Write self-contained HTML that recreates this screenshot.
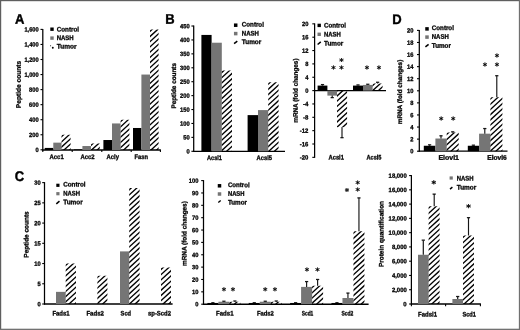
<!DOCTYPE html>
<html><head><meta charset="utf-8"><title>Figure</title>
<style>
html,body{margin:0;padding:0;background:#fff;}
body{width:520px;height:330px;overflow:hidden;position:relative;}
svg{position:absolute;left:0;top:0;display:block;}
svg text{font-family:"Liberation Sans",sans-serif;font-weight:bold;fill:#000;stroke:#000;stroke-width:0.3px;}
</style></head><body>
<svg width="520" height="330" viewBox="0 0 520 330">
<defs>
<filter id="soft" x="0" y="0" width="520" height="330" filterUnits="userSpaceOnUse"><feGaussianBlur stdDeviation="0.32"/></filter>
<filter id="soft2" x="0" y="0" width="520" height="330" filterUnits="userSpaceOnUse"><feGaussianBlur stdDeviation="0.2"/></filter>
</defs>
<rect width="520" height="330" fill="#fff"/>
<rect x="0.00" y="0.00" width="520.00" height="1.20" fill="#5f5f5f"/>
<rect x="0.00" y="0.00" width="1.20" height="330.00" fill="#5f5f5f"/>
<rect x="0.00" y="328.70" width="520.00" height="1.30" fill="#727272"/>
<rect x="518.85" y="0.00" width="1.15" height="330.00" fill="#707070"/>
<g filter="url(#soft)">
<text transform="translate(14.90,23.80) rotate(0.1)" font-size="14" text-anchor="start" textLength="9.40" lengthAdjust="spacingAndGlyphs" style="stroke-width:0.4px">A</text>
<text transform="translate(165.30,23.80) rotate(0.1)" font-size="14" text-anchor="start" textLength="9.40" lengthAdjust="spacingAndGlyphs" style="stroke-width:0.4px">B</text>
<text transform="translate(14.80,181.10) rotate(0.1)" font-size="14" text-anchor="start" textLength="9.40" lengthAdjust="spacingAndGlyphs" style="stroke-width:0.4px">C</text>
<text transform="translate(392.20,24.00) rotate(0.1)" font-size="14" text-anchor="start" textLength="9.40" lengthAdjust="spacingAndGlyphs" style="stroke-width:0.4px">D</text>
<line x1="42.80" y1="28.90" x2="42.80" y2="150.50" stroke="#000" stroke-width="1.25"/>
<line x1="40.50" y1="149.80" x2="42.80" y2="149.80" stroke="#000" stroke-width="1.1"/>
<text transform="translate(38.60,151.98) rotate(0.1)" font-size="6.15" text-anchor="end" textLength="3.20" lengthAdjust="spacingAndGlyphs">0</text>
<line x1="40.50" y1="134.75" x2="42.80" y2="134.75" stroke="#000" stroke-width="1.1"/>
<text transform="translate(38.60,136.93) rotate(0.1)" font-size="6.15" text-anchor="end" textLength="9.60" lengthAdjust="spacingAndGlyphs">200</text>
<line x1="40.50" y1="119.70" x2="42.80" y2="119.70" stroke="#000" stroke-width="1.1"/>
<text transform="translate(38.60,121.88) rotate(0.1)" font-size="6.15" text-anchor="end" textLength="9.60" lengthAdjust="spacingAndGlyphs">400</text>
<line x1="40.50" y1="104.65" x2="42.80" y2="104.65" stroke="#000" stroke-width="1.1"/>
<text transform="translate(38.60,106.83) rotate(0.1)" font-size="6.15" text-anchor="end" textLength="9.60" lengthAdjust="spacingAndGlyphs">600</text>
<line x1="40.50" y1="89.60" x2="42.80" y2="89.60" stroke="#000" stroke-width="1.1"/>
<text transform="translate(38.60,91.78) rotate(0.1)" font-size="6.15" text-anchor="end" textLength="9.60" lengthAdjust="spacingAndGlyphs">800</text>
<line x1="40.50" y1="74.55" x2="42.80" y2="74.55" stroke="#000" stroke-width="1.1"/>
<text transform="translate(38.60,76.73) rotate(0.1)" font-size="6.15" text-anchor="end" textLength="14.20" lengthAdjust="spacingAndGlyphs">1,000</text>
<line x1="40.50" y1="59.50" x2="42.80" y2="59.50" stroke="#000" stroke-width="1.1"/>
<text transform="translate(38.60,61.68) rotate(0.1)" font-size="6.15" text-anchor="end" textLength="14.20" lengthAdjust="spacingAndGlyphs">1,200</text>
<line x1="40.50" y1="44.45" x2="42.80" y2="44.45" stroke="#000" stroke-width="1.1"/>
<text transform="translate(38.60,46.63) rotate(0.1)" font-size="6.15" text-anchor="end" textLength="14.20" lengthAdjust="spacingAndGlyphs">1,400</text>
<line x1="40.50" y1="29.40" x2="42.80" y2="29.40" stroke="#000" stroke-width="1.1"/>
<text transform="translate(38.60,31.58) rotate(0.1)" font-size="6.15" text-anchor="end" textLength="14.20" lengthAdjust="spacingAndGlyphs">1,600</text>
<line x1="42.20" y1="150.00" x2="160.90" y2="150.00" stroke="#000" stroke-width="1.3"/>
<line x1="42.80" y1="150.00" x2="42.80" y2="151.90" stroke="#000" stroke-width="1.1"/>
<line x1="72.20" y1="150.00" x2="72.20" y2="151.90" stroke="#000" stroke-width="1.1"/>
<line x1="101.80" y1="150.00" x2="101.80" y2="151.90" stroke="#000" stroke-width="1.1"/>
<line x1="131.20" y1="150.00" x2="131.20" y2="151.90" stroke="#000" stroke-width="1.1"/>
<line x1="160.40" y1="150.00" x2="160.40" y2="151.90" stroke="#000" stroke-width="1.1"/>
<rect x="44.70" y="147.92" width="8.60" height="2.08" fill="#000"/>
<rect x="53.30" y="142.65" width="8.20" height="7.35" fill="#747474"/>
<rect x="74.00" y="149.42" width="8.40" height="0.58" fill="#000"/>
<rect x="82.40" y="146.04" width="8.60" height="3.96" fill="#747474"/>
<rect x="103.40" y="140.02" width="8.60" height="9.98" fill="#000"/>
<rect x="112.00" y="123.46" width="8.60" height="26.54" fill="#747474"/>
<rect x="133.00" y="127.98" width="8.40" height="22.02" fill="#000"/>
<rect x="141.40" y="74.55" width="8.60" height="75.45" fill="#747474"/>
<text transform="translate(56.60,159.00) rotate(0.1)" font-size="6.6" text-anchor="middle" textLength="14.20" lengthAdjust="spacingAndGlyphs">Acc1</text>
<text transform="translate(87.50,159.00) rotate(0.1)" font-size="6.6" text-anchor="middle" textLength="14.20" lengthAdjust="spacingAndGlyphs">Acc2</text>
<text transform="translate(112.80,159.00) rotate(0.1)" font-size="6.6" text-anchor="middle" textLength="12.40" lengthAdjust="spacingAndGlyphs">Acly</text>
<text transform="translate(141.30,159.00) rotate(0.1)" font-size="6.6" text-anchor="middle" textLength="13.40" lengthAdjust="spacingAndGlyphs">Fasn</text>
<text transform="translate(20.68,84.50) rotate(-89.9)" font-size="6.6" text-anchor="middle" textLength="47.30" lengthAdjust="spacingAndGlyphs">Peptide counts</text>
<rect x="50.30" y="27.50" width="3.40" height="3.40" fill="#000"/>
<text transform="translate(56.70,31.40) rotate(0.1)" font-size="6.6" text-anchor="start" textLength="22.30" lengthAdjust="spacingAndGlyphs">Control</text>
<rect x="50.30" y="36.40" width="3.40" height="3.40" fill="#747474"/>
<text transform="translate(56.70,39.90) rotate(0.1)" font-size="6.6" text-anchor="start" textLength="17.00" lengthAdjust="spacingAndGlyphs">NASH</text>
<circle cx="50.60" cy="45.80" r="0.55" fill="#000"/>
<circle cx="52.80" cy="47.80" r="0.95" fill="#000"/>
<text transform="translate(56.70,48.60) rotate(0.1)" font-size="6.6" text-anchor="start" textLength="19.80" lengthAdjust="spacingAndGlyphs">Tumor</text>
<line x1="193.70" y1="25.52" x2="193.70" y2="151.80" stroke="#000" stroke-width="1.25"/>
<line x1="191.40" y1="151.30" x2="193.70" y2="151.30" stroke="#000" stroke-width="1.1"/>
<text transform="translate(189.60,153.48) rotate(0.1)" font-size="6.15" text-anchor="end" textLength="3.20" lengthAdjust="spacingAndGlyphs">0</text>
<line x1="191.40" y1="137.38" x2="193.70" y2="137.38" stroke="#000" stroke-width="1.1"/>
<text transform="translate(189.60,139.56) rotate(0.1)" font-size="6.15" text-anchor="end" textLength="6.40" lengthAdjust="spacingAndGlyphs">50</text>
<line x1="191.40" y1="123.46" x2="193.70" y2="123.46" stroke="#000" stroke-width="1.1"/>
<text transform="translate(189.60,125.64) rotate(0.1)" font-size="6.15" text-anchor="end" textLength="9.60" lengthAdjust="spacingAndGlyphs">100</text>
<line x1="191.40" y1="109.54" x2="193.70" y2="109.54" stroke="#000" stroke-width="1.1"/>
<text transform="translate(189.60,111.72) rotate(0.1)" font-size="6.15" text-anchor="end" textLength="9.60" lengthAdjust="spacingAndGlyphs">150</text>
<line x1="191.40" y1="95.62" x2="193.70" y2="95.62" stroke="#000" stroke-width="1.1"/>
<text transform="translate(189.60,97.80) rotate(0.1)" font-size="6.15" text-anchor="end" textLength="9.60" lengthAdjust="spacingAndGlyphs">200</text>
<line x1="191.40" y1="81.70" x2="193.70" y2="81.70" stroke="#000" stroke-width="1.1"/>
<text transform="translate(189.60,83.88) rotate(0.1)" font-size="6.15" text-anchor="end" textLength="9.60" lengthAdjust="spacingAndGlyphs">250</text>
<line x1="191.40" y1="67.78" x2="193.70" y2="67.78" stroke="#000" stroke-width="1.1"/>
<text transform="translate(189.60,69.96) rotate(0.1)" font-size="6.15" text-anchor="end" textLength="9.60" lengthAdjust="spacingAndGlyphs">300</text>
<line x1="191.40" y1="53.86" x2="193.70" y2="53.86" stroke="#000" stroke-width="1.1"/>
<text transform="translate(189.60,56.04) rotate(0.1)" font-size="6.15" text-anchor="end" textLength="9.60" lengthAdjust="spacingAndGlyphs">350</text>
<line x1="191.40" y1="39.94" x2="193.70" y2="39.94" stroke="#000" stroke-width="1.1"/>
<text transform="translate(189.60,42.12) rotate(0.1)" font-size="6.15" text-anchor="end" textLength="9.60" lengthAdjust="spacingAndGlyphs">400</text>
<line x1="191.40" y1="26.02" x2="193.70" y2="26.02" stroke="#000" stroke-width="1.1"/>
<text transform="translate(189.60,28.20) rotate(0.1)" font-size="6.15" text-anchor="end" textLength="9.60" lengthAdjust="spacingAndGlyphs">450</text>
<line x1="193.10" y1="151.30" x2="285.00" y2="151.30" stroke="#000" stroke-width="1.3"/>
<rect x="201.40" y="34.93" width="10.20" height="116.37" fill="#000"/>
<rect x="211.60" y="42.72" width="10.20" height="108.58" fill="#747474"/>
<rect x="247.60" y="115.11" width="10.40" height="36.19" fill="#000"/>
<rect x="258.00" y="110.10" width="10.20" height="41.20" fill="#747474"/>
<text transform="translate(214.50,160.00) rotate(0.1)" font-size="6.6" text-anchor="middle" textLength="15.00" lengthAdjust="spacingAndGlyphs">Acsl1</text>
<text transform="translate(264.30,160.00) rotate(0.1)" font-size="6.6" text-anchor="middle" textLength="15.40" lengthAdjust="spacingAndGlyphs">Acsl5</text>
<text transform="translate(175.98,85.80) rotate(-89.9)" font-size="6.6" text-anchor="middle" textLength="45.60" lengthAdjust="spacingAndGlyphs">Peptide counts</text>
<rect x="233.95" y="23.45" width="3.50" height="3.50" fill="#000"/>
<text transform="translate(241.80,26.60) rotate(0.1)" font-size="6.6" text-anchor="start" textLength="22.10" lengthAdjust="spacingAndGlyphs">Control</text>
<rect x="233.95" y="31.85" width="3.50" height="3.50" fill="#747474"/>
<text transform="translate(241.80,35.40) rotate(0.1)" font-size="6.6" text-anchor="start" textLength="17.10" lengthAdjust="spacingAndGlyphs">NASH</text>
<line x1="234.10" y1="43.70" x2="237.30" y2="41.10" stroke="#000" stroke-width="1.5"/>
<text transform="translate(241.80,44.00) rotate(0.1)" font-size="6.6" text-anchor="start" textLength="19.40" lengthAdjust="spacingAndGlyphs">Tumor</text>
<line x1="314.60" y1="23.35" x2="314.60" y2="157.85" stroke="#000" stroke-width="1.25"/>
<line x1="312.30" y1="157.35" x2="314.60" y2="157.35" stroke="#000" stroke-width="1.1"/>
<text transform="translate(308.40,159.53) rotate(0.1)" font-size="6.15" text-anchor="end" textLength="8.60" lengthAdjust="spacingAndGlyphs">-20</text>
<line x1="312.30" y1="144.00" x2="314.60" y2="144.00" stroke="#000" stroke-width="1.1"/>
<text transform="translate(308.40,146.18) rotate(0.1)" font-size="6.15" text-anchor="end" textLength="8.60" lengthAdjust="spacingAndGlyphs">-16</text>
<line x1="312.30" y1="130.65" x2="314.60" y2="130.65" stroke="#000" stroke-width="1.1"/>
<text transform="translate(308.40,132.83) rotate(0.1)" font-size="6.15" text-anchor="end" textLength="8.60" lengthAdjust="spacingAndGlyphs">-12</text>
<line x1="312.30" y1="117.30" x2="314.60" y2="117.30" stroke="#000" stroke-width="1.1"/>
<text transform="translate(308.40,119.48) rotate(0.1)" font-size="6.15" text-anchor="end" textLength="5.40" lengthAdjust="spacingAndGlyphs">-8</text>
<line x1="312.30" y1="103.95" x2="314.60" y2="103.95" stroke="#000" stroke-width="1.1"/>
<text transform="translate(308.40,106.13) rotate(0.1)" font-size="6.15" text-anchor="end" textLength="5.40" lengthAdjust="spacingAndGlyphs">-4</text>
<line x1="312.30" y1="90.60" x2="314.60" y2="90.60" stroke="#000" stroke-width="1.1"/>
<text transform="translate(308.40,92.78) rotate(0.1)" font-size="6.15" text-anchor="end" textLength="3.20" lengthAdjust="spacingAndGlyphs">0</text>
<line x1="312.30" y1="77.25" x2="314.60" y2="77.25" stroke="#000" stroke-width="1.1"/>
<text transform="translate(308.40,79.43) rotate(0.1)" font-size="6.15" text-anchor="end" textLength="3.20" lengthAdjust="spacingAndGlyphs">4</text>
<line x1="312.30" y1="63.90" x2="314.60" y2="63.90" stroke="#000" stroke-width="1.1"/>
<text transform="translate(308.40,66.08) rotate(0.1)" font-size="6.15" text-anchor="end" textLength="3.20" lengthAdjust="spacingAndGlyphs">8</text>
<line x1="312.30" y1="50.55" x2="314.60" y2="50.55" stroke="#000" stroke-width="1.1"/>
<text transform="translate(308.40,52.73) rotate(0.1)" font-size="6.15" text-anchor="end" textLength="6.40" lengthAdjust="spacingAndGlyphs">12</text>
<line x1="312.30" y1="37.20" x2="314.60" y2="37.20" stroke="#000" stroke-width="1.1"/>
<text transform="translate(308.40,39.38) rotate(0.1)" font-size="6.15" text-anchor="end" textLength="6.40" lengthAdjust="spacingAndGlyphs">16</text>
<line x1="312.30" y1="23.85" x2="314.60" y2="23.85" stroke="#000" stroke-width="1.1"/>
<text transform="translate(308.40,26.03) rotate(0.1)" font-size="6.15" text-anchor="end" textLength="6.40" lengthAdjust="spacingAndGlyphs">20</text>
<line x1="314.00" y1="90.60" x2="386.00" y2="90.60" stroke="#000" stroke-width="1.2"/>
<rect x="317.60" y="85.59" width="9.80" height="5.01" fill="#000"/>
<line x1="322.50" y1="85.59" x2="322.50" y2="84.59" stroke="#141414" stroke-width="1.15"/>
<line x1="320.90" y1="84.59" x2="324.10" y2="84.59" stroke="#141414" stroke-width="1.25"/>
<rect x="327.40" y="90.60" width="9.60" height="5.01" fill="#747474"/>
<line x1="332.20" y1="95.61" x2="332.20" y2="97.61" stroke="#141414" stroke-width="1.15"/>
<line x1="330.60" y1="97.61" x2="333.80" y2="97.61" stroke="#141414" stroke-width="1.25"/>
<line x1="342.00" y1="127.31" x2="342.00" y2="137.66" stroke="#141414" stroke-width="1.15"/>
<line x1="340.40" y1="137.66" x2="343.60" y2="137.66" stroke="#141414" stroke-width="1.25"/>
<rect x="353.00" y="85.59" width="10.00" height="5.01" fill="#000"/>
<line x1="358.00" y1="85.59" x2="358.00" y2="84.93" stroke="#141414" stroke-width="1.15"/>
<line x1="356.40" y1="84.93" x2="359.60" y2="84.93" stroke="#141414" stroke-width="1.25"/>
<rect x="363.00" y="84.93" width="9.60" height="5.67" fill="#747474"/>
<line x1="367.80" y1="84.93" x2="367.80" y2="84.26" stroke="#141414" stroke-width="1.15"/>
<line x1="366.20" y1="84.26" x2="369.40" y2="84.26" stroke="#141414" stroke-width="1.25"/>
<line x1="377.60" y1="83.59" x2="377.60" y2="82.26" stroke="#141414" stroke-width="1.15"/>
<line x1="376.00" y1="82.26" x2="379.20" y2="82.26" stroke="#141414" stroke-width="1.25"/>
<text transform="translate(333.30,71.67) rotate(0.1)" font-size="8.3" text-anchor="middle" style="font-family:'DejaVu Sans',sans-serif;stroke-width:0.22px">*</text>
<text transform="translate(341.50,71.67) rotate(0.1)" font-size="8.3" text-anchor="middle" style="font-family:'DejaVu Sans',sans-serif;stroke-width:0.22px">*</text>
<text transform="translate(341.50,64.27) rotate(0.1)" font-size="8.3" text-anchor="middle" style="font-family:'DejaVu Sans',sans-serif;stroke-width:0.22px">*</text>
<text transform="translate(367.00,71.67) rotate(0.1)" font-size="8.3" text-anchor="middle" style="font-family:'DejaVu Sans',sans-serif;stroke-width:0.22px">*</text>
<text transform="translate(378.80,71.67) rotate(0.1)" font-size="8.3" text-anchor="middle" style="font-family:'DejaVu Sans',sans-serif;stroke-width:0.22px">*</text>
<text transform="translate(336.20,159.60) rotate(0.1)" font-size="6.6" text-anchor="middle" textLength="15.40" lengthAdjust="spacingAndGlyphs">Acsl1</text>
<text transform="translate(374.00,159.60) rotate(0.1)" font-size="6.6" text-anchor="middle" textLength="15.00" lengthAdjust="spacingAndGlyphs">Acsl5</text>
<text transform="translate(297.78,90.60) rotate(-89.9)" font-size="6.6" text-anchor="middle" textLength="64.20" lengthAdjust="spacingAndGlyphs">mRNA (fold changes)</text>
<rect x="317.50" y="23.70" width="3.40" height="3.40" fill="#000"/>
<text transform="translate(324.00,27.50) rotate(0.1)" font-size="6.6" text-anchor="start" textLength="22.00" lengthAdjust="spacingAndGlyphs">Control</text>
<rect x="317.50" y="32.60" width="3.40" height="3.40" fill="#747474"/>
<text transform="translate(324.00,36.50) rotate(0.1)" font-size="6.6" text-anchor="start" textLength="16.80" lengthAdjust="spacingAndGlyphs">NASH</text>
<line x1="317.60" y1="44.50" x2="320.80" y2="41.90" stroke="#000" stroke-width="1.5"/>
<text transform="translate(324.00,45.40) rotate(0.1)" font-size="6.6" text-anchor="start" textLength="19.30" lengthAdjust="spacingAndGlyphs">Tumor</text>
<line x1="419.30" y1="29.90" x2="419.30" y2="151.70" stroke="#000" stroke-width="1.25"/>
<line x1="417.00" y1="151.20" x2="419.30" y2="151.20" stroke="#000" stroke-width="1.1"/>
<text transform="translate(413.40,153.38) rotate(0.1)" font-size="6.15" text-anchor="end" textLength="3.20" lengthAdjust="spacingAndGlyphs">0</text>
<line x1="417.00" y1="139.12" x2="419.30" y2="139.12" stroke="#000" stroke-width="1.1"/>
<text transform="translate(413.40,141.30) rotate(0.1)" font-size="6.15" text-anchor="end" textLength="3.20" lengthAdjust="spacingAndGlyphs">2</text>
<line x1="417.00" y1="127.04" x2="419.30" y2="127.04" stroke="#000" stroke-width="1.1"/>
<text transform="translate(413.40,129.22) rotate(0.1)" font-size="6.15" text-anchor="end" textLength="3.20" lengthAdjust="spacingAndGlyphs">4</text>
<line x1="417.00" y1="114.96" x2="419.30" y2="114.96" stroke="#000" stroke-width="1.1"/>
<text transform="translate(413.40,117.14) rotate(0.1)" font-size="6.15" text-anchor="end" textLength="3.20" lengthAdjust="spacingAndGlyphs">6</text>
<line x1="417.00" y1="102.88" x2="419.30" y2="102.88" stroke="#000" stroke-width="1.1"/>
<text transform="translate(413.40,105.06) rotate(0.1)" font-size="6.15" text-anchor="end" textLength="3.20" lengthAdjust="spacingAndGlyphs">8</text>
<line x1="417.00" y1="90.80" x2="419.30" y2="90.80" stroke="#000" stroke-width="1.1"/>
<text transform="translate(413.40,92.98) rotate(0.1)" font-size="6.15" text-anchor="end" textLength="6.40" lengthAdjust="spacingAndGlyphs">10</text>
<line x1="417.00" y1="78.72" x2="419.30" y2="78.72" stroke="#000" stroke-width="1.1"/>
<text transform="translate(413.40,80.90) rotate(0.1)" font-size="6.15" text-anchor="end" textLength="6.40" lengthAdjust="spacingAndGlyphs">12</text>
<line x1="417.00" y1="66.64" x2="419.30" y2="66.64" stroke="#000" stroke-width="1.1"/>
<text transform="translate(413.40,68.82) rotate(0.1)" font-size="6.15" text-anchor="end" textLength="6.40" lengthAdjust="spacingAndGlyphs">14</text>
<line x1="417.00" y1="54.56" x2="419.30" y2="54.56" stroke="#000" stroke-width="1.1"/>
<text transform="translate(413.40,56.74) rotate(0.1)" font-size="6.15" text-anchor="end" textLength="6.40" lengthAdjust="spacingAndGlyphs">16</text>
<line x1="417.00" y1="42.48" x2="419.30" y2="42.48" stroke="#000" stroke-width="1.1"/>
<text transform="translate(413.40,44.66) rotate(0.1)" font-size="6.15" text-anchor="end" textLength="6.40" lengthAdjust="spacingAndGlyphs">18</text>
<line x1="417.00" y1="30.40" x2="419.30" y2="30.40" stroke="#000" stroke-width="1.1"/>
<text transform="translate(413.40,32.58) rotate(0.1)" font-size="6.15" text-anchor="end" textLength="6.40" lengthAdjust="spacingAndGlyphs">20</text>
<line x1="418.70" y1="151.20" x2="507.50" y2="151.20" stroke="#000" stroke-width="1.3"/>
<rect x="423.80" y="145.76" width="11.60" height="5.44" fill="#000"/>
<line x1="429.60" y1="145.76" x2="429.60" y2="144.86" stroke="#141414" stroke-width="1.15"/>
<line x1="428.00" y1="144.86" x2="431.20" y2="144.86" stroke="#141414" stroke-width="1.25"/>
<rect x="435.40" y="138.52" width="11.30" height="12.68" fill="#747474"/>
<line x1="441.00" y1="138.52" x2="441.00" y2="135.80" stroke="#141414" stroke-width="1.15"/>
<line x1="439.40" y1="135.80" x2="442.60" y2="135.80" stroke="#141414" stroke-width="1.25"/>
<line x1="452.70" y1="132.48" x2="452.70" y2="131.87" stroke="#141414" stroke-width="1.15"/>
<line x1="451.10" y1="131.87" x2="454.30" y2="131.87" stroke="#141414" stroke-width="1.25"/>
<rect x="467.80" y="145.76" width="11.30" height="5.44" fill="#000"/>
<line x1="473.40" y1="145.76" x2="473.40" y2="145.16" stroke="#141414" stroke-width="1.15"/>
<line x1="471.80" y1="145.16" x2="475.00" y2="145.16" stroke="#141414" stroke-width="1.25"/>
<rect x="479.10" y="133.68" width="11.30" height="17.52" fill="#747474"/>
<line x1="484.80" y1="133.68" x2="484.80" y2="128.55" stroke="#141414" stroke-width="1.15"/>
<line x1="483.20" y1="128.55" x2="486.40" y2="128.55" stroke="#141414" stroke-width="1.25"/>
<line x1="496.80" y1="97.14" x2="496.80" y2="75.70" stroke="#141414" stroke-width="1.15"/>
<line x1="495.20" y1="75.70" x2="498.40" y2="75.70" stroke="#141414" stroke-width="1.25"/>
<text transform="translate(441.20,122.77) rotate(0.1)" font-size="8.3" text-anchor="middle" style="font-family:'DejaVu Sans',sans-serif;stroke-width:0.22px">*</text>
<text transform="translate(453.20,122.77) rotate(0.1)" font-size="8.3" text-anchor="middle" style="font-family:'DejaVu Sans',sans-serif;stroke-width:0.22px">*</text>
<text transform="translate(485.00,68.67) rotate(0.1)" font-size="8.3" text-anchor="middle" style="font-family:'DejaVu Sans',sans-serif;stroke-width:0.22px">*</text>
<text transform="translate(497.00,68.67) rotate(0.1)" font-size="8.3" text-anchor="middle" style="font-family:'DejaVu Sans',sans-serif;stroke-width:0.22px">*</text>
<text transform="translate(497.00,59.87) rotate(0.1)" font-size="8.3" text-anchor="middle" style="font-family:'DejaVu Sans',sans-serif;stroke-width:0.22px">*</text>
<text transform="translate(448.70,159.80) rotate(0.1)" font-size="6.6" text-anchor="middle" textLength="20.60" lengthAdjust="spacingAndGlyphs">Elovl1</text>
<text transform="translate(497.00,159.80) rotate(0.1)" font-size="6.6" text-anchor="middle" textLength="19.60" lengthAdjust="spacingAndGlyphs">Elovl6</text>
<text transform="translate(401.98,92.00) rotate(-89.9)" font-size="6.6" text-anchor="middle" textLength="64.50" lengthAdjust="spacingAndGlyphs">mRNA (fold changes)</text>
<rect x="425.25" y="27.15" width="3.50" height="3.50" fill="#000"/>
<text transform="translate(431.80,30.00) rotate(0.1)" font-size="6.6" text-anchor="start" textLength="22.10" lengthAdjust="spacingAndGlyphs">Control</text>
<rect x="425.25" y="35.35" width="3.50" height="3.50" fill="#747474"/>
<text transform="translate(431.80,38.80) rotate(0.1)" font-size="6.6" text-anchor="start" textLength="16.90" lengthAdjust="spacingAndGlyphs">NASH</text>
<line x1="425.40" y1="46.90" x2="428.60" y2="44.30" stroke="#000" stroke-width="1.5"/>
<text transform="translate(431.80,47.70) rotate(0.1)" font-size="6.6" text-anchor="start" textLength="19.10" lengthAdjust="spacingAndGlyphs">Tumor</text>
<line x1="44.50" y1="182.12" x2="44.50" y2="304.50" stroke="#000" stroke-width="1.25"/>
<line x1="42.20" y1="304.00" x2="44.50" y2="304.00" stroke="#000" stroke-width="1.1"/>
<text transform="translate(40.60,306.18) rotate(0.1)" font-size="6.15" text-anchor="end" textLength="3.20" lengthAdjust="spacingAndGlyphs">0</text>
<line x1="42.20" y1="283.77" x2="44.50" y2="283.77" stroke="#000" stroke-width="1.1"/>
<text transform="translate(40.60,285.95) rotate(0.1)" font-size="6.15" text-anchor="end" textLength="3.20" lengthAdjust="spacingAndGlyphs">5</text>
<line x1="42.20" y1="263.54" x2="44.50" y2="263.54" stroke="#000" stroke-width="1.1"/>
<text transform="translate(40.60,265.72) rotate(0.1)" font-size="6.15" text-anchor="end" textLength="6.40" lengthAdjust="spacingAndGlyphs">10</text>
<line x1="42.20" y1="243.31" x2="44.50" y2="243.31" stroke="#000" stroke-width="1.1"/>
<text transform="translate(40.60,245.49) rotate(0.1)" font-size="6.15" text-anchor="end" textLength="6.40" lengthAdjust="spacingAndGlyphs">15</text>
<line x1="42.20" y1="223.08" x2="44.50" y2="223.08" stroke="#000" stroke-width="1.1"/>
<text transform="translate(40.60,225.26) rotate(0.1)" font-size="6.15" text-anchor="end" textLength="6.40" lengthAdjust="spacingAndGlyphs">20</text>
<line x1="42.20" y1="202.85" x2="44.50" y2="202.85" stroke="#000" stroke-width="1.1"/>
<text transform="translate(40.60,205.03) rotate(0.1)" font-size="6.15" text-anchor="end" textLength="6.40" lengthAdjust="spacingAndGlyphs">25</text>
<line x1="42.20" y1="182.62" x2="44.50" y2="182.62" stroke="#000" stroke-width="1.1"/>
<text transform="translate(40.60,184.80) rotate(0.1)" font-size="6.15" text-anchor="end" textLength="6.40" lengthAdjust="spacingAndGlyphs">30</text>
<line x1="44.00" y1="304.00" x2="172.60" y2="304.00" stroke="#000" stroke-width="1.35"/>
<rect x="56.00" y="291.86" width="9.70" height="12.14" fill="#747474"/>
<rect x="120.00" y="251.40" width="9.20" height="52.60" fill="#747474"/>
<text transform="translate(61.00,315.50) rotate(0.1)" font-size="6.6" text-anchor="middle" textLength="17.20" lengthAdjust="spacingAndGlyphs">Fads1</text>
<text transform="translate(95.20,315.50) rotate(0.1)" font-size="6.6" text-anchor="middle" textLength="17.60" lengthAdjust="spacingAndGlyphs">Fads2</text>
<text transform="translate(125.80,315.50) rotate(0.1)" font-size="6.6" text-anchor="middle" textLength="10.40" lengthAdjust="spacingAndGlyphs">Scd</text>
<text transform="translate(159.50,315.50) rotate(0.1)" font-size="6.6" text-anchor="middle" textLength="23.00" lengthAdjust="spacingAndGlyphs">sp-Scd2</text>
<text transform="translate(28.48,234.50) rotate(-89.9)" font-size="6.6" text-anchor="middle" textLength="46.30" lengthAdjust="spacingAndGlyphs">Peptide counts</text>
<rect x="56.30" y="183.70" width="3.20" height="3.20" fill="#000"/>
<text transform="translate(63.20,186.50) rotate(0.1)" font-size="6.6" text-anchor="start" textLength="22.40" lengthAdjust="spacingAndGlyphs">Control</text>
<rect x="56.30" y="192.10" width="3.20" height="3.20" fill="#747474"/>
<text transform="translate(63.20,195.50) rotate(0.1)" font-size="6.6" text-anchor="start" textLength="16.80" lengthAdjust="spacingAndGlyphs">NASH</text>
<line x1="56.30" y1="203.80" x2="59.50" y2="201.20" stroke="#000" stroke-width="1.5"/>
<text transform="translate(63.20,204.20) rotate(0.1)" font-size="6.6" text-anchor="start" textLength="19.50" lengthAdjust="spacingAndGlyphs">Tumor</text>
<line x1="203.50" y1="180.10" x2="203.50" y2="304.70" stroke="#000" stroke-width="1.25"/>
<line x1="201.20" y1="304.20" x2="203.50" y2="304.20" stroke="#000" stroke-width="1.1"/>
<text transform="translate(198.40,306.38) rotate(0.1)" font-size="6.15" text-anchor="end" textLength="3.20" lengthAdjust="spacingAndGlyphs">0</text>
<line x1="201.20" y1="291.84" x2="203.50" y2="291.84" stroke="#000" stroke-width="1.1"/>
<text transform="translate(198.40,294.02) rotate(0.1)" font-size="6.15" text-anchor="end" textLength="6.40" lengthAdjust="spacingAndGlyphs">10</text>
<line x1="201.20" y1="279.48" x2="203.50" y2="279.48" stroke="#000" stroke-width="1.1"/>
<text transform="translate(198.40,281.66) rotate(0.1)" font-size="6.15" text-anchor="end" textLength="6.40" lengthAdjust="spacingAndGlyphs">20</text>
<line x1="201.20" y1="267.12" x2="203.50" y2="267.12" stroke="#000" stroke-width="1.1"/>
<text transform="translate(198.40,269.30) rotate(0.1)" font-size="6.15" text-anchor="end" textLength="6.40" lengthAdjust="spacingAndGlyphs">30</text>
<line x1="201.20" y1="254.76" x2="203.50" y2="254.76" stroke="#000" stroke-width="1.1"/>
<text transform="translate(198.40,256.94) rotate(0.1)" font-size="6.15" text-anchor="end" textLength="6.40" lengthAdjust="spacingAndGlyphs">40</text>
<line x1="201.20" y1="242.40" x2="203.50" y2="242.40" stroke="#000" stroke-width="1.1"/>
<text transform="translate(198.40,244.58) rotate(0.1)" font-size="6.15" text-anchor="end" textLength="6.40" lengthAdjust="spacingAndGlyphs">50</text>
<line x1="201.20" y1="230.04" x2="203.50" y2="230.04" stroke="#000" stroke-width="1.1"/>
<text transform="translate(198.40,232.22) rotate(0.1)" font-size="6.15" text-anchor="end" textLength="6.40" lengthAdjust="spacingAndGlyphs">60</text>
<line x1="201.20" y1="217.68" x2="203.50" y2="217.68" stroke="#000" stroke-width="1.1"/>
<text transform="translate(198.40,219.86) rotate(0.1)" font-size="6.15" text-anchor="end" textLength="6.40" lengthAdjust="spacingAndGlyphs">70</text>
<line x1="201.20" y1="205.32" x2="203.50" y2="205.32" stroke="#000" stroke-width="1.1"/>
<text transform="translate(198.40,207.50) rotate(0.1)" font-size="6.15" text-anchor="end" textLength="6.40" lengthAdjust="spacingAndGlyphs">80</text>
<line x1="201.20" y1="192.96" x2="203.50" y2="192.96" stroke="#000" stroke-width="1.1"/>
<text transform="translate(198.40,195.14) rotate(0.1)" font-size="6.15" text-anchor="end" textLength="6.40" lengthAdjust="spacingAndGlyphs">90</text>
<line x1="201.20" y1="180.60" x2="203.50" y2="180.60" stroke="#000" stroke-width="1.1"/>
<text transform="translate(198.40,182.78) rotate(0.1)" font-size="6.15" text-anchor="end" textLength="9.60" lengthAdjust="spacingAndGlyphs">100</text>
<line x1="202.90" y1="304.20" x2="368.60" y2="304.20" stroke="#000" stroke-width="1.35"/>
<rect x="207.40" y="302.96" width="11.00" height="1.24" fill="#000"/>
<line x1="212.90" y1="302.96" x2="212.90" y2="302.72" stroke="#141414" stroke-width="1.15"/>
<line x1="211.30" y1="302.72" x2="214.50" y2="302.72" stroke="#141414" stroke-width="1.25"/>
<rect x="218.40" y="301.73" width="11.00" height="2.47" fill="#747474"/>
<line x1="223.90" y1="301.73" x2="223.90" y2="301.23" stroke="#141414" stroke-width="1.15"/>
<line x1="222.30" y1="301.23" x2="225.50" y2="301.23" stroke="#141414" stroke-width="1.25"/>
<line x1="234.90" y1="301.73" x2="234.90" y2="300.99" stroke="#141414" stroke-width="1.15"/>
<line x1="233.30" y1="300.99" x2="236.50" y2="300.99" stroke="#141414" stroke-width="1.25"/>
<rect x="248.75" y="302.96" width="11.00" height="1.24" fill="#000"/>
<line x1="254.25" y1="302.96" x2="254.25" y2="302.72" stroke="#141414" stroke-width="1.15"/>
<line x1="252.65" y1="302.72" x2="255.85" y2="302.72" stroke="#141414" stroke-width="1.25"/>
<rect x="259.75" y="301.73" width="11.00" height="2.47" fill="#747474"/>
<line x1="265.25" y1="301.73" x2="265.25" y2="301.23" stroke="#141414" stroke-width="1.15"/>
<line x1="263.65" y1="301.23" x2="266.85" y2="301.23" stroke="#141414" stroke-width="1.25"/>
<line x1="276.25" y1="301.73" x2="276.25" y2="300.99" stroke="#141414" stroke-width="1.15"/>
<line x1="274.65" y1="300.99" x2="277.85" y2="300.99" stroke="#141414" stroke-width="1.25"/>
<rect x="290.10" y="302.96" width="11.00" height="1.24" fill="#000"/>
<line x1="295.60" y1="302.96" x2="295.60" y2="302.72" stroke="#141414" stroke-width="1.15"/>
<line x1="294.00" y1="302.72" x2="297.20" y2="302.72" stroke="#141414" stroke-width="1.25"/>
<rect x="301.10" y="286.90" width="11.00" height="17.30" fill="#747474"/>
<line x1="306.60" y1="286.90" x2="306.60" y2="281.58" stroke="#141414" stroke-width="1.15"/>
<line x1="305.00" y1="281.58" x2="308.20" y2="281.58" stroke="#141414" stroke-width="1.25"/>
<line x1="317.60" y1="285.66" x2="317.60" y2="279.48" stroke="#141414" stroke-width="1.15"/>
<line x1="316.00" y1="279.48" x2="319.20" y2="279.48" stroke="#141414" stroke-width="1.25"/>
<rect x="331.45" y="302.96" width="11.00" height="1.24" fill="#000"/>
<line x1="336.95" y1="302.96" x2="336.95" y2="302.72" stroke="#141414" stroke-width="1.15"/>
<line x1="335.35" y1="302.72" x2="338.55" y2="302.72" stroke="#141414" stroke-width="1.25"/>
<rect x="342.45" y="298.02" width="11.00" height="6.18" fill="#747474"/>
<line x1="347.95" y1="298.02" x2="347.95" y2="293.08" stroke="#141414" stroke-width="1.15"/>
<line x1="346.35" y1="293.08" x2="349.55" y2="293.08" stroke="#141414" stroke-width="1.25"/>
<line x1="358.95" y1="231.28" x2="358.95" y2="197.90" stroke="#141414" stroke-width="1.15"/>
<line x1="357.35" y1="197.90" x2="360.55" y2="197.90" stroke="#141414" stroke-width="1.25"/>
<text transform="translate(223.80,293.47) rotate(0.1)" font-size="8.3" text-anchor="middle" style="font-family:'DejaVu Sans',sans-serif;stroke-width:0.22px">*</text>
<text transform="translate(233.00,293.47) rotate(0.1)" font-size="8.3" text-anchor="middle" style="font-family:'DejaVu Sans',sans-serif;stroke-width:0.22px">*</text>
<text transform="translate(265.20,293.47) rotate(0.1)" font-size="8.3" text-anchor="middle" style="font-family:'DejaVu Sans',sans-serif;stroke-width:0.22px">*</text>
<text transform="translate(274.80,293.47) rotate(0.1)" font-size="8.3" text-anchor="middle" style="font-family:'DejaVu Sans',sans-serif;stroke-width:0.22px">*</text>
<text transform="translate(307.00,273.87) rotate(0.1)" font-size="8.3" text-anchor="middle" style="font-family:'DejaVu Sans',sans-serif;stroke-width:0.22px">*</text>
<text transform="translate(317.40,273.87) rotate(0.1)" font-size="8.3" text-anchor="middle" style="font-family:'DejaVu Sans',sans-serif;stroke-width:0.22px">*</text>
<text transform="translate(347.00,194.27) rotate(0.1)" font-size="8.3" text-anchor="middle" style="font-family:'DejaVu Sans',sans-serif;stroke-width:0.22px">*</text>
<text transform="translate(357.60,193.87) rotate(0.1)" font-size="8.3" text-anchor="middle" style="font-family:'DejaVu Sans',sans-serif;stroke-width:0.22px">*</text>
<text transform="translate(357.60,186.67) rotate(0.1)" font-size="8.3" text-anchor="middle" style="font-family:'DejaVu Sans',sans-serif;stroke-width:0.22px">*</text>
<text transform="translate(224.80,315.60) rotate(0.1)" font-size="6.6" text-anchor="middle" textLength="17.50" lengthAdjust="spacingAndGlyphs">Fads1</text>
<text transform="translate(265.40,315.60) rotate(0.1)" font-size="6.6" text-anchor="middle" textLength="17.00" lengthAdjust="spacingAndGlyphs">Fads2</text>
<text transform="translate(307.50,315.60) rotate(0.1)" font-size="6.6" text-anchor="middle" textLength="11.60" lengthAdjust="spacingAndGlyphs">Scd1</text>
<text transform="translate(347.40,315.60) rotate(0.1)" font-size="6.6" text-anchor="middle" textLength="12.00" lengthAdjust="spacingAndGlyphs">Scd2</text>
<text transform="translate(186.48,233.60) rotate(-89.9)" font-size="6.6" text-anchor="middle" textLength="64.80" lengthAdjust="spacingAndGlyphs">mRNA (fold changes)</text>
<rect x="217.75" y="184.05" width="3.50" height="3.50" fill="#000"/>
<text transform="translate(227.90,187.10) rotate(0.1)" font-size="6.6" text-anchor="start" textLength="21.80" lengthAdjust="spacingAndGlyphs">Control</text>
<rect x="217.75" y="192.25" width="3.50" height="3.50" fill="#747474"/>
<text transform="translate(227.90,195.80) rotate(0.1)" font-size="6.6" text-anchor="start" textLength="16.60" lengthAdjust="spacingAndGlyphs">NASH</text>
<line x1="218.30" y1="202.50" x2="220.70" y2="200.50" stroke="#000" stroke-width="1.4"/>
<text transform="translate(227.90,204.40) rotate(0.1)" font-size="6.6" text-anchor="start" textLength="19.10" lengthAdjust="spacingAndGlyphs">Tumor</text>
<line x1="411.40" y1="175.07" x2="411.40" y2="304.50" stroke="#000" stroke-width="1.25"/>
<line x1="409.10" y1="304.00" x2="411.40" y2="304.00" stroke="#000" stroke-width="1.1"/>
<text transform="translate(406.70,306.18) rotate(0.1)" font-size="6.15" text-anchor="end" textLength="3.33" lengthAdjust="spacingAndGlyphs">0</text>
<line x1="409.10" y1="289.73" x2="411.40" y2="289.73" stroke="#000" stroke-width="1.1"/>
<text transform="translate(406.70,291.91) rotate(0.1)" font-size="6.15" text-anchor="end" textLength="14.77" lengthAdjust="spacingAndGlyphs">2,000</text>
<line x1="409.10" y1="275.46" x2="411.40" y2="275.46" stroke="#000" stroke-width="1.1"/>
<text transform="translate(406.70,277.64) rotate(0.1)" font-size="6.15" text-anchor="end" textLength="14.77" lengthAdjust="spacingAndGlyphs">4,000</text>
<line x1="409.10" y1="261.19" x2="411.40" y2="261.19" stroke="#000" stroke-width="1.1"/>
<text transform="translate(406.70,263.37) rotate(0.1)" font-size="6.15" text-anchor="end" textLength="14.77" lengthAdjust="spacingAndGlyphs">6,000</text>
<line x1="409.10" y1="246.92" x2="411.40" y2="246.92" stroke="#000" stroke-width="1.1"/>
<text transform="translate(406.70,249.10) rotate(0.1)" font-size="6.15" text-anchor="end" textLength="14.77" lengthAdjust="spacingAndGlyphs">8,000</text>
<line x1="409.10" y1="232.65" x2="411.40" y2="232.65" stroke="#000" stroke-width="1.1"/>
<text transform="translate(406.70,234.83) rotate(0.1)" font-size="6.15" text-anchor="end" textLength="18.10" lengthAdjust="spacingAndGlyphs">10,000</text>
<line x1="409.10" y1="218.38" x2="411.40" y2="218.38" stroke="#000" stroke-width="1.1"/>
<text transform="translate(406.70,220.56) rotate(0.1)" font-size="6.15" text-anchor="end" textLength="18.10" lengthAdjust="spacingAndGlyphs">12,000</text>
<line x1="409.10" y1="204.11" x2="411.40" y2="204.11" stroke="#000" stroke-width="1.1"/>
<text transform="translate(406.70,206.29) rotate(0.1)" font-size="6.15" text-anchor="end" textLength="18.10" lengthAdjust="spacingAndGlyphs">14,000</text>
<line x1="409.10" y1="189.84" x2="411.40" y2="189.84" stroke="#000" stroke-width="1.1"/>
<text transform="translate(406.70,192.02) rotate(0.1)" font-size="6.15" text-anchor="end" textLength="18.10" lengthAdjust="spacingAndGlyphs">16,000</text>
<line x1="409.10" y1="175.57" x2="411.40" y2="175.57" stroke="#000" stroke-width="1.1"/>
<text transform="translate(406.70,177.75) rotate(0.1)" font-size="6.15" text-anchor="end" textLength="18.10" lengthAdjust="spacingAndGlyphs">18,000</text>
<line x1="410.80" y1="304.00" x2="480.90" y2="304.00" stroke="#000" stroke-width="1.3"/>
<line x1="411.40" y1="304.00" x2="411.40" y2="306.20" stroke="#000" stroke-width="1.1"/>
<line x1="445.60" y1="304.00" x2="445.60" y2="306.20" stroke="#000" stroke-width="1.1"/>
<line x1="480.40" y1="304.00" x2="480.40" y2="306.20" stroke="#000" stroke-width="1.1"/>
<rect x="418.00" y="254.77" width="10.60" height="49.23" fill="#747474"/>
<line x1="423.30" y1="254.77" x2="423.30" y2="240.14" stroke="#141414" stroke-width="1.15"/>
<line x1="421.70" y1="240.14" x2="424.90" y2="240.14" stroke="#141414" stroke-width="1.25"/>
<line x1="434.20" y1="206.25" x2="434.20" y2="194.12" stroke="#141414" stroke-width="1.15"/>
<line x1="432.60" y1="194.12" x2="435.80" y2="194.12" stroke="#141414" stroke-width="1.25"/>
<rect x="452.40" y="299.01" width="10.60" height="4.99" fill="#747474"/>
<line x1="457.70" y1="299.01" x2="457.70" y2="296.51" stroke="#141414" stroke-width="1.15"/>
<line x1="456.10" y1="296.51" x2="459.30" y2="296.51" stroke="#141414" stroke-width="1.25"/>
<line x1="468.50" y1="235.50" x2="468.50" y2="217.67" stroke="#141414" stroke-width="1.15"/>
<line x1="466.90" y1="217.67" x2="470.10" y2="217.67" stroke="#141414" stroke-width="1.25"/>
<text transform="translate(433.80,186.68) rotate(0.1)" font-size="8.7" text-anchor="middle" style="font-family:'DejaVu Sans',sans-serif;stroke-width:0.22px">*</text>
<text transform="translate(468.50,210.38) rotate(0.1)" font-size="8.7" text-anchor="middle" style="font-family:'DejaVu Sans',sans-serif;stroke-width:0.22px">*</text>
<text transform="translate(427.50,316.40) rotate(0.1)" font-size="6.6" text-anchor="middle" textLength="19.00" lengthAdjust="spacingAndGlyphs">Fadsl1</text>
<text transform="translate(469.20,316.40) rotate(0.1)" font-size="6.6" text-anchor="middle" textLength="13.60" lengthAdjust="spacingAndGlyphs">Scd1</text>
<text transform="translate(383.48,234.00) rotate(-89.9)" font-size="6.6" text-anchor="middle" textLength="66.00" lengthAdjust="spacingAndGlyphs">Protein quantification</text>
<rect x="449.60" y="176.40" width="3.20" height="3.20" fill="#747474"/>
<text transform="translate(456.70,180.50) rotate(0.1)" font-size="6.6" text-anchor="start" textLength="16.80" lengthAdjust="spacingAndGlyphs">NASH</text>
<line x1="450.00" y1="189.10" x2="452.40" y2="187.10" stroke="#000" stroke-width="1.4"/>
<text transform="translate(456.70,189.50) rotate(0.1)" font-size="6.6" text-anchor="start" textLength="19.60" lengthAdjust="spacingAndGlyphs">Tumor</text>
</g>
<g filter="url(#soft2)">
<clipPath id="c1"><rect x="61.50" y="134.75" width="9.10" height="15.25"/></clipPath><g clip-path="url(#c1)" stroke="#000" stroke-width="1.35"><line x1="60.50" y1="132.37" x2="71.60" y2="122.20"/><line x1="60.50" y1="137.57" x2="71.60" y2="127.40"/><line x1="60.50" y1="142.77" x2="71.60" y2="132.60"/><line x1="60.50" y1="147.97" x2="71.60" y2="137.80"/><line x1="60.50" y1="153.17" x2="71.60" y2="143.00"/><line x1="60.50" y1="158.37" x2="71.60" y2="148.20"/></g>
<clipPath id="c2"><rect x="91.00" y="143.40" width="8.80" height="6.60"/></clipPath><g clip-path="url(#c2)" stroke="#000" stroke-width="1.35"><line x1="90.00" y1="141.02" x2="100.80" y2="131.12"/><line x1="90.00" y1="146.22" x2="100.80" y2="136.32"/><line x1="90.00" y1="151.42" x2="100.80" y2="141.52"/><line x1="90.00" y1="156.62" x2="100.80" y2="146.72"/></g>
<clipPath id="c3"><rect x="120.60" y="119.70" width="8.80" height="30.30"/></clipPath><g clip-path="url(#c3)" stroke="#000" stroke-width="1.35"><line x1="119.60" y1="117.32" x2="130.40" y2="107.42"/><line x1="119.60" y1="122.52" x2="130.40" y2="112.62"/><line x1="119.60" y1="127.72" x2="130.40" y2="117.82"/><line x1="119.60" y1="132.92" x2="130.40" y2="123.02"/><line x1="119.60" y1="138.12" x2="130.40" y2="128.22"/><line x1="119.60" y1="143.32" x2="130.40" y2="133.42"/><line x1="119.60" y1="148.52" x2="130.40" y2="138.62"/><line x1="119.60" y1="153.72" x2="130.40" y2="143.82"/><line x1="119.60" y1="158.92" x2="130.40" y2="149.02"/></g>
<clipPath id="c4"><rect x="150.00" y="29.40" width="8.60" height="120.60"/></clipPath><g clip-path="url(#c4)" stroke="#000" stroke-width="1.35"><line x1="149.00" y1="27.02" x2="159.60" y2="17.30"/><line x1="149.00" y1="32.22" x2="159.60" y2="22.50"/><line x1="149.00" y1="37.42" x2="159.60" y2="27.70"/><line x1="149.00" y1="42.62" x2="159.60" y2="32.90"/><line x1="149.00" y1="47.82" x2="159.60" y2="38.10"/><line x1="149.00" y1="53.02" x2="159.60" y2="43.30"/><line x1="149.00" y1="58.22" x2="159.60" y2="48.50"/><line x1="149.00" y1="63.42" x2="159.60" y2="53.70"/><line x1="149.00" y1="68.62" x2="159.60" y2="58.90"/><line x1="149.00" y1="73.82" x2="159.60" y2="64.10"/><line x1="149.00" y1="79.02" x2="159.60" y2="69.30"/><line x1="149.00" y1="84.22" x2="159.60" y2="74.50"/><line x1="149.00" y1="89.42" x2="159.60" y2="79.70"/><line x1="149.00" y1="94.62" x2="159.60" y2="84.90"/><line x1="149.00" y1="99.82" x2="159.60" y2="90.10"/><line x1="149.00" y1="105.02" x2="159.60" y2="95.30"/><line x1="149.00" y1="110.22" x2="159.60" y2="100.50"/><line x1="149.00" y1="115.42" x2="159.60" y2="105.70"/><line x1="149.00" y1="120.62" x2="159.60" y2="110.90"/><line x1="149.00" y1="125.82" x2="159.60" y2="116.10"/><line x1="149.00" y1="131.02" x2="159.60" y2="121.30"/><line x1="149.00" y1="136.22" x2="159.60" y2="126.50"/><line x1="149.00" y1="141.42" x2="159.60" y2="131.70"/><line x1="149.00" y1="146.62" x2="159.60" y2="136.90"/><line x1="149.00" y1="151.82" x2="159.60" y2="142.10"/><line x1="149.00" y1="157.02" x2="159.60" y2="147.30"/></g>
<clipPath id="c5"><rect x="221.80" y="70.56" width="10.20" height="80.74"/></clipPath><g clip-path="url(#c5)" stroke="#000" stroke-width="1.35"><line x1="220.80" y1="68.18" x2="233.00" y2="57.00"/><line x1="220.80" y1="73.38" x2="233.00" y2="62.20"/><line x1="220.80" y1="78.58" x2="233.00" y2="67.40"/><line x1="220.80" y1="83.78" x2="233.00" y2="72.60"/><line x1="220.80" y1="88.98" x2="233.00" y2="77.80"/><line x1="220.80" y1="94.18" x2="233.00" y2="83.00"/><line x1="220.80" y1="99.38" x2="233.00" y2="88.20"/><line x1="220.80" y1="104.58" x2="233.00" y2="93.40"/><line x1="220.80" y1="109.78" x2="233.00" y2="98.60"/><line x1="220.80" y1="114.98" x2="233.00" y2="103.80"/><line x1="220.80" y1="120.18" x2="233.00" y2="109.00"/><line x1="220.80" y1="125.38" x2="233.00" y2="114.20"/><line x1="220.80" y1="130.58" x2="233.00" y2="119.40"/><line x1="220.80" y1="135.78" x2="233.00" y2="124.60"/><line x1="220.80" y1="140.98" x2="233.00" y2="129.80"/><line x1="220.80" y1="146.18" x2="233.00" y2="135.00"/><line x1="220.80" y1="151.38" x2="233.00" y2="140.20"/><line x1="220.80" y1="156.58" x2="233.00" y2="145.40"/><line x1="220.80" y1="161.78" x2="233.00" y2="150.60"/></g>
<clipPath id="c6"><rect x="268.20" y="82.26" width="10.40" height="69.04"/></clipPath><g clip-path="url(#c6)" stroke="#000" stroke-width="1.35"><line x1="267.20" y1="79.87" x2="279.60" y2="68.51"/><line x1="267.20" y1="85.07" x2="279.60" y2="73.71"/><line x1="267.20" y1="90.27" x2="279.60" y2="78.91"/><line x1="267.20" y1="95.47" x2="279.60" y2="84.11"/><line x1="267.20" y1="100.67" x2="279.60" y2="89.31"/><line x1="267.20" y1="105.87" x2="279.60" y2="94.51"/><line x1="267.20" y1="111.07" x2="279.60" y2="99.71"/><line x1="267.20" y1="116.27" x2="279.60" y2="104.91"/><line x1="267.20" y1="121.47" x2="279.60" y2="110.11"/><line x1="267.20" y1="126.67" x2="279.60" y2="115.31"/><line x1="267.20" y1="131.87" x2="279.60" y2="120.51"/><line x1="267.20" y1="137.07" x2="279.60" y2="125.71"/><line x1="267.20" y1="142.27" x2="279.60" y2="130.91"/><line x1="267.20" y1="147.47" x2="279.60" y2="136.11"/><line x1="267.20" y1="152.67" x2="279.60" y2="141.31"/><line x1="267.20" y1="157.87" x2="279.60" y2="146.51"/><line x1="267.20" y1="163.07" x2="279.60" y2="151.71"/></g>
<clipPath id="c7"><rect x="337.00" y="90.60" width="10.10" height="36.71"/></clipPath><g clip-path="url(#c7)" stroke="#000" stroke-width="1.35"><line x1="336.00" y1="86.52" x2="348.10" y2="75.43"/><line x1="336.00" y1="91.72" x2="348.10" y2="80.63"/><line x1="336.00" y1="96.92" x2="348.10" y2="85.83"/><line x1="336.00" y1="102.12" x2="348.10" y2="91.03"/><line x1="336.00" y1="107.32" x2="348.10" y2="96.23"/><line x1="336.00" y1="112.52" x2="348.10" y2="101.43"/><line x1="336.00" y1="117.72" x2="348.10" y2="106.63"/><line x1="336.00" y1="122.92" x2="348.10" y2="111.83"/><line x1="336.00" y1="128.12" x2="348.10" y2="117.03"/><line x1="336.00" y1="133.32" x2="348.10" y2="122.23"/><line x1="336.00" y1="138.52" x2="348.10" y2="127.43"/></g>
<clipPath id="c8"><rect x="372.60" y="83.59" width="10.00" height="7.01"/></clipPath><g clip-path="url(#c8)" stroke="#000" stroke-width="1.35"><line x1="371.60" y1="81.21" x2="383.60" y2="70.21"/><line x1="371.60" y1="86.41" x2="383.60" y2="75.41"/><line x1="371.60" y1="91.61" x2="383.60" y2="80.61"/><line x1="371.60" y1="96.81" x2="383.60" y2="85.81"/><line x1="371.60" y1="102.01" x2="383.60" y2="91.01"/></g>
<clipPath id="c9"><rect x="446.70" y="132.48" width="12.00" height="18.72"/></clipPath><g clip-path="url(#c9)" stroke="#000" stroke-width="1.35"><line x1="445.70" y1="130.09" x2="459.70" y2="117.26"/><line x1="445.70" y1="135.29" x2="459.70" y2="122.46"/><line x1="445.70" y1="140.49" x2="459.70" y2="127.66"/><line x1="445.70" y1="145.69" x2="459.70" y2="132.86"/><line x1="445.70" y1="150.89" x2="459.70" y2="138.06"/><line x1="445.70" y1="156.09" x2="459.70" y2="143.26"/><line x1="445.70" y1="161.29" x2="459.70" y2="148.46"/></g>
<clipPath id="c10"><rect x="490.40" y="97.14" width="12.00" height="54.06"/></clipPath><g clip-path="url(#c10)" stroke="#000" stroke-width="1.35"><line x1="489.40" y1="94.76" x2="503.40" y2="81.93"/><line x1="489.40" y1="99.96" x2="503.40" y2="87.13"/><line x1="489.40" y1="105.16" x2="503.40" y2="92.33"/><line x1="489.40" y1="110.36" x2="503.40" y2="97.53"/><line x1="489.40" y1="115.56" x2="503.40" y2="102.73"/><line x1="489.40" y1="120.76" x2="503.40" y2="107.93"/><line x1="489.40" y1="125.96" x2="503.40" y2="113.13"/><line x1="489.40" y1="131.16" x2="503.40" y2="118.33"/><line x1="489.40" y1="136.36" x2="503.40" y2="123.53"/><line x1="489.40" y1="141.56" x2="503.40" y2="128.73"/><line x1="489.40" y1="146.76" x2="503.40" y2="133.93"/><line x1="489.40" y1="151.96" x2="503.40" y2="139.13"/><line x1="489.40" y1="157.16" x2="503.40" y2="144.33"/><line x1="489.40" y1="162.36" x2="503.40" y2="149.53"/></g>
<clipPath id="c11"><rect x="65.70" y="263.54" width="10.30" height="40.46"/></clipPath><g clip-path="url(#c11)" stroke="#000" stroke-width="1.35"><line x1="64.70" y1="261.16" x2="77.00" y2="249.89"/><line x1="64.70" y1="266.36" x2="77.00" y2="255.09"/><line x1="64.70" y1="271.56" x2="77.00" y2="260.29"/><line x1="64.70" y1="276.76" x2="77.00" y2="265.49"/><line x1="64.70" y1="281.96" x2="77.00" y2="270.69"/><line x1="64.70" y1="287.16" x2="77.00" y2="275.89"/><line x1="64.70" y1="292.36" x2="77.00" y2="281.09"/><line x1="64.70" y1="297.56" x2="77.00" y2="286.29"/><line x1="64.70" y1="302.76" x2="77.00" y2="291.49"/><line x1="64.70" y1="307.96" x2="77.00" y2="296.69"/><line x1="64.70" y1="313.16" x2="77.00" y2="301.89"/></g>
<clipPath id="c12"><rect x="97.40" y="275.68" width="10.00" height="28.32"/></clipPath><g clip-path="url(#c12)" stroke="#000" stroke-width="1.35"><line x1="96.40" y1="273.29" x2="108.40" y2="262.30"/><line x1="96.40" y1="278.49" x2="108.40" y2="267.50"/><line x1="96.40" y1="283.69" x2="108.40" y2="272.70"/><line x1="96.40" y1="288.89" x2="108.40" y2="277.90"/><line x1="96.40" y1="294.09" x2="108.40" y2="283.10"/><line x1="96.40" y1="299.29" x2="108.40" y2="288.30"/><line x1="96.40" y1="304.49" x2="108.40" y2="293.50"/><line x1="96.40" y1="309.69" x2="108.40" y2="298.70"/><line x1="96.40" y1="314.89" x2="108.40" y2="303.90"/></g>
<clipPath id="c13"><rect x="129.20" y="187.88" width="10.40" height="116.12"/></clipPath><g clip-path="url(#c13)" stroke="#000" stroke-width="1.35"><line x1="128.20" y1="185.50" x2="140.60" y2="174.13"/><line x1="128.20" y1="190.70" x2="140.60" y2="179.33"/><line x1="128.20" y1="195.90" x2="140.60" y2="184.53"/><line x1="128.20" y1="201.10" x2="140.60" y2="189.73"/><line x1="128.20" y1="206.30" x2="140.60" y2="194.93"/><line x1="128.20" y1="211.50" x2="140.60" y2="200.13"/><line x1="128.20" y1="216.70" x2="140.60" y2="205.33"/><line x1="128.20" y1="221.90" x2="140.60" y2="210.53"/><line x1="128.20" y1="227.10" x2="140.60" y2="215.73"/><line x1="128.20" y1="232.30" x2="140.60" y2="220.93"/><line x1="128.20" y1="237.50" x2="140.60" y2="226.13"/><line x1="128.20" y1="242.70" x2="140.60" y2="231.33"/><line x1="128.20" y1="247.90" x2="140.60" y2="236.53"/><line x1="128.20" y1="253.10" x2="140.60" y2="241.73"/><line x1="128.20" y1="258.30" x2="140.60" y2="246.93"/><line x1="128.20" y1="263.50" x2="140.60" y2="252.13"/><line x1="128.20" y1="268.70" x2="140.60" y2="257.33"/><line x1="128.20" y1="273.90" x2="140.60" y2="262.53"/><line x1="128.20" y1="279.10" x2="140.60" y2="267.73"/><line x1="128.20" y1="284.30" x2="140.60" y2="272.93"/><line x1="128.20" y1="289.50" x2="140.60" y2="278.13"/><line x1="128.20" y1="294.70" x2="140.60" y2="283.33"/><line x1="128.20" y1="299.90" x2="140.60" y2="288.53"/><line x1="128.20" y1="305.10" x2="140.60" y2="293.73"/><line x1="128.20" y1="310.30" x2="140.60" y2="298.93"/><line x1="128.20" y1="315.50" x2="140.60" y2="304.13"/></g>
<clipPath id="c14"><rect x="161.00" y="267.59" width="10.00" height="36.41"/></clipPath><g clip-path="url(#c14)" stroke="#000" stroke-width="1.35"><line x1="160.00" y1="265.20" x2="172.00" y2="254.21"/><line x1="160.00" y1="270.40" x2="172.00" y2="259.41"/><line x1="160.00" y1="275.60" x2="172.00" y2="264.61"/><line x1="160.00" y1="280.80" x2="172.00" y2="269.81"/><line x1="160.00" y1="286.00" x2="172.00" y2="275.01"/><line x1="160.00" y1="291.20" x2="172.00" y2="280.21"/><line x1="160.00" y1="296.40" x2="172.00" y2="285.41"/><line x1="160.00" y1="301.60" x2="172.00" y2="290.61"/><line x1="160.00" y1="306.80" x2="172.00" y2="295.81"/><line x1="160.00" y1="312.00" x2="172.00" y2="301.01"/></g>
<clipPath id="c15"><rect x="229.40" y="301.73" width="11.00" height="2.47"/></clipPath><g clip-path="url(#c15)" stroke="#000" stroke-width="1.35"><line x1="228.40" y1="299.34" x2="241.40" y2="287.43"/><line x1="228.40" y1="304.54" x2="241.40" y2="292.63"/><line x1="228.40" y1="309.74" x2="241.40" y2="297.83"/><line x1="228.40" y1="314.94" x2="241.40" y2="303.03"/></g>
<clipPath id="c16"><rect x="270.75" y="301.73" width="11.00" height="2.47"/></clipPath><g clip-path="url(#c16)" stroke="#000" stroke-width="1.35"><line x1="269.75" y1="299.34" x2="282.75" y2="287.43"/><line x1="269.75" y1="304.54" x2="282.75" y2="292.63"/><line x1="269.75" y1="309.74" x2="282.75" y2="297.83"/><line x1="269.75" y1="314.94" x2="282.75" y2="303.03"/></g>
<clipPath id="c17"><rect x="312.10" y="285.66" width="11.00" height="18.54"/></clipPath><g clip-path="url(#c17)" stroke="#000" stroke-width="1.35"><line x1="311.10" y1="283.28" x2="324.10" y2="271.36"/><line x1="311.10" y1="288.48" x2="324.10" y2="276.56"/><line x1="311.10" y1="293.68" x2="324.10" y2="281.76"/><line x1="311.10" y1="298.88" x2="324.10" y2="286.96"/><line x1="311.10" y1="304.08" x2="324.10" y2="292.16"/><line x1="311.10" y1="309.28" x2="324.10" y2="297.36"/><line x1="311.10" y1="314.48" x2="324.10" y2="302.56"/></g>
<clipPath id="c18"><rect x="353.45" y="231.28" width="11.00" height="72.92"/></clipPath><g clip-path="url(#c18)" stroke="#000" stroke-width="1.35"><line x1="352.45" y1="228.89" x2="365.45" y2="216.98"/><line x1="352.45" y1="234.09" x2="365.45" y2="222.18"/><line x1="352.45" y1="239.29" x2="365.45" y2="227.38"/><line x1="352.45" y1="244.49" x2="365.45" y2="232.58"/><line x1="352.45" y1="249.69" x2="365.45" y2="237.78"/><line x1="352.45" y1="254.89" x2="365.45" y2="242.98"/><line x1="352.45" y1="260.09" x2="365.45" y2="248.18"/><line x1="352.45" y1="265.29" x2="365.45" y2="253.38"/><line x1="352.45" y1="270.49" x2="365.45" y2="258.58"/><line x1="352.45" y1="275.69" x2="365.45" y2="263.78"/><line x1="352.45" y1="280.89" x2="365.45" y2="268.98"/><line x1="352.45" y1="286.09" x2="365.45" y2="274.18"/><line x1="352.45" y1="291.29" x2="365.45" y2="279.38"/><line x1="352.45" y1="296.49" x2="365.45" y2="284.58"/><line x1="352.45" y1="301.69" x2="365.45" y2="289.78"/><line x1="352.45" y1="306.89" x2="365.45" y2="294.98"/><line x1="352.45" y1="312.09" x2="365.45" y2="300.18"/></g>
<clipPath id="c19"><rect x="428.60" y="206.25" width="11.00" height="97.75"/></clipPath><g clip-path="url(#c19)" stroke="#000" stroke-width="1.35"><line x1="427.60" y1="203.87" x2="440.60" y2="191.95"/><line x1="427.60" y1="209.07" x2="440.60" y2="197.15"/><line x1="427.60" y1="214.27" x2="440.60" y2="202.35"/><line x1="427.60" y1="219.47" x2="440.60" y2="207.55"/><line x1="427.60" y1="224.67" x2="440.60" y2="212.75"/><line x1="427.60" y1="229.87" x2="440.60" y2="217.95"/><line x1="427.60" y1="235.07" x2="440.60" y2="223.15"/><line x1="427.60" y1="240.27" x2="440.60" y2="228.35"/><line x1="427.60" y1="245.47" x2="440.60" y2="233.55"/><line x1="427.60" y1="250.67" x2="440.60" y2="238.75"/><line x1="427.60" y1="255.87" x2="440.60" y2="243.95"/><line x1="427.60" y1="261.07" x2="440.60" y2="249.15"/><line x1="427.60" y1="266.27" x2="440.60" y2="254.35"/><line x1="427.60" y1="271.47" x2="440.60" y2="259.55"/><line x1="427.60" y1="276.67" x2="440.60" y2="264.75"/><line x1="427.60" y1="281.87" x2="440.60" y2="269.95"/><line x1="427.60" y1="287.07" x2="440.60" y2="275.15"/><line x1="427.60" y1="292.27" x2="440.60" y2="280.35"/><line x1="427.60" y1="297.47" x2="440.60" y2="285.55"/><line x1="427.60" y1="302.67" x2="440.60" y2="290.75"/><line x1="427.60" y1="307.87" x2="440.60" y2="295.95"/><line x1="427.60" y1="313.07" x2="440.60" y2="301.15"/></g>
<clipPath id="c20"><rect x="463.00" y="235.50" width="11.00" height="68.50"/></clipPath><g clip-path="url(#c20)" stroke="#000" stroke-width="1.35"><line x1="462.00" y1="233.12" x2="475.00" y2="221.21"/><line x1="462.00" y1="238.32" x2="475.00" y2="226.41"/><line x1="462.00" y1="243.52" x2="475.00" y2="231.61"/><line x1="462.00" y1="248.72" x2="475.00" y2="236.81"/><line x1="462.00" y1="253.92" x2="475.00" y2="242.01"/><line x1="462.00" y1="259.12" x2="475.00" y2="247.21"/><line x1="462.00" y1="264.32" x2="475.00" y2="252.41"/><line x1="462.00" y1="269.52" x2="475.00" y2="257.61"/><line x1="462.00" y1="274.72" x2="475.00" y2="262.81"/><line x1="462.00" y1="279.92" x2="475.00" y2="268.01"/><line x1="462.00" y1="285.12" x2="475.00" y2="273.21"/><line x1="462.00" y1="290.32" x2="475.00" y2="278.41"/><line x1="462.00" y1="295.52" x2="475.00" y2="283.61"/><line x1="462.00" y1="300.72" x2="475.00" y2="288.81"/><line x1="462.00" y1="305.92" x2="475.00" y2="294.01"/><line x1="462.00" y1="311.12" x2="475.00" y2="299.21"/><line x1="462.00" y1="316.32" x2="475.00" y2="304.41"/></g>
</g>
</svg></body></html>
